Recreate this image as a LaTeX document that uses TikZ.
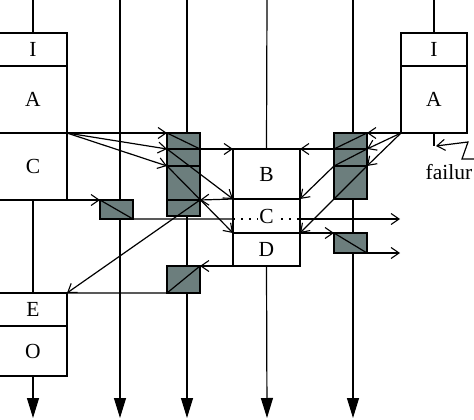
\documentclass[tikz,border=0pt]{standalone}
\usepackage{fontspec}
\setmainfont{Liberation Serif}
\usetikzlibrary{arrows.meta,backgrounds}
\definecolor{shadecol}{RGB}{108,126,125}
\setlength{\fboxsep}{1pt}
\begin{document}
\begin{tikzpicture}[x=1pt,y=-1pt,line width=1.2pt,
  box/.style={draw,rectangle,inner sep=0pt,outer sep=0pt,anchor=north west,font=\fontsize{21.5}{25}\selectfont},
  shbox/.style={draw,fill=shadecol,rectangle,inner sep=0pt,outer sep=0pt,anchor=north west},
  msg/.style={-{Straight Barb[length=8pt,width=11pt,line width=1.1pt]}},
  life/.style={-{Triangle[length=20pt,width=12pt]}},
  dotline/.style={line width=1.6pt,dash pattern=on 2pt off 6pt}]
\useasboundingbox (0,0) rectangle (474,420);
% process boxes
\node[box,minimum width=68pt,minimum height=33pt] (LI) at (-1,33) {I};
\node[box,minimum width=68pt,minimum height=67pt] (LA) at (-1,66) {A};
\node[box,minimum width=68pt,minimum height=67pt] (LC) at (-1,133) {C};
\node[box,minimum width=68pt,minimum height=33pt] (LE) at (-1,293) {E};
\node[box,minimum width=68pt,minimum height=50pt] (LO) at (-1,326) {O};
\node[box,minimum width=66pt,minimum height=33pt] (RI) at (401,33) {I};
\node[box,minimum width=66pt,minimum height=67pt] (RA) at (401,66) {A};
\node[box,minimum width=67pt,minimum height=50pt] (MB) at (233,149) {B};
\node[box,minimum width=67pt,minimum height=34pt] (MC) at (233,199) {\colorbox{white}{C}};
\node[box,minimum width=67pt,minimum height=33pt] (MD) at (233,233) {D};
% shaded boxes
\node[shbox,minimum width=33pt,minimum height=83pt] (S1) at (167,133) {};
\node[shbox,minimum width=33pt,minimum height=19pt] (S2) at (100,200) {};
\node[shbox,minimum width=33pt,minimum height=27pt] (S3) at (167,266) {};
\node[shbox,minimum width=33pt,minimum height=66pt] (S4) at (334,133) {};
\node[shbox,minimum width=33pt,minimum height=20pt] (S5) at (334,233) {};
% coordinates
\coordinate (t1) at (33,0);  \coordinate (b1) at (33,418);
\coordinate (t2) at (120,0); \coordinate (b2) at (120,418);
\coordinate (t3) at (187,0); \coordinate (b3) at (187,418);
\coordinate (t4) at (267,0); \coordinate (b4) at (267,418);
\coordinate (t5) at (353,0); \coordinate (b5) at (353,418);
\coordinate (t6) at (434,0); \coordinate (fA) at (434,146);
\coordinate (fT) at (436,146);
\coordinate (s1l1) at (167,149); \coordinate (s1r1) at (200,149);
\coordinate (s1l2) at (167,166); \coordinate (s1r2) at (200,166);
\coordinate (s1l3) at (167,200); \coordinate (s1r3) at (200,200);
\coordinate (s4l1) at (334,149); \coordinate (s4r1) at (367,149);
\coordinate (s4l2) at (334,166); \coordinate (s4r2) at (367,166);
\coordinate (o1) at (400,219); \coordinate (o2) at (400,253);
\coordinate (z1) at (476,159); \coordinate (z2) at (462,159); \coordinate (z3) at (468,142);
% internal lines of shaded boxes
\draw (s1l1) -- (s1r1); \draw (s1l2) -- (s1r2); \draw (s1l3) -- (s1r3);
\draw (s4l1) -- (s4r1); \draw (s4l2) -- (s4r2);
% lifelines
\draw (t1) -- (LI.north);
\draw (LC.south) -- (LE.north);
\draw[life] (LO.south) -- (b1);
\draw (t2) -- (t2 |- S2.north);
\draw[life] (t2 |- S2.south) -- (b2);
\draw (t3) -- (t3 |- S1.north);
\draw (t3 |- S1.south) -- (t3 |- S3.north);
\draw[life] (t3 |- S3.south) -- (b3);
\draw (t4) -- (MB.north);
\draw[life] (MD.south) -- (b4);
\draw (t5) -- (t5 |- S4.north);
\draw (t5 |- S4.south) -- (t5 |- S5.north);
\draw[life] (t5 |- S5.south) -- (b5);
\draw (t6) -- (RI.north);
\draw (RA.south) -- (fA);
% messages from left
\draw[msg] (LA.south east) -- (S1.north west);
\draw[msg] (LA.south east) -- (s1l1);
\draw[msg] (LA.south east) -- (s1l2);
\draw (S1.north west) -- (s1r1);
\draw[msg] (s1r1) -- (MB.north west);
\draw[msg] (s1l1) -- (MC.north west);
\draw[msg] (s1l2) -- (MD.north west);
\draw[msg] (MC.north west) -- (s1r3);
\draw[msg] (s1r3) -- (LE.north east);
\draw[msg] (LC.south east) -- (S2.north west);
\draw (S2.north west) -- (S2.south east) -- (MC.west |- S2.south east);
\begin{scope}[on background layer]
\draw[dotline] (MC.west |- S2.south east) -- (MC.east |- S2.south east);
\end{scope}
\draw[msg] (MC.east |- S2.south east) -- (o1);
\draw[msg] (MD.south west) -- (S3.north east);
\draw (S3.north east) -- (S3.south west) -- (LE.north east);
% messages from right
\draw[msg] (RA.south west) -- (S4.north east);
\draw[msg] (RA.south west) -- (s4r1);
\draw[msg] (RA.south west) -- (s4r2);
\draw (S4.north east) -- (s4l1);
\draw[msg] (s4l1) -- (MB.north east);
\draw[msg] (s4r1) -- (s4l2) -- (MC.north east);
\draw[msg] (s4r2) -- (MD.north east);
\draw[msg] (MD.north east) -- (S5.north west);
\draw (S5.north west) -- (S5.south east);
\draw[msg] (S5.south east) -- (o2);
% failure
\draw[msg] (z1) -- (z2) -- (z3) -- (fT);
\node[anchor=base west,inner sep=0pt,font=\fontsize{21.5}{25}\selectfont] (fl) at (425,179) {failur};
\end{tikzpicture}
\end{document}
